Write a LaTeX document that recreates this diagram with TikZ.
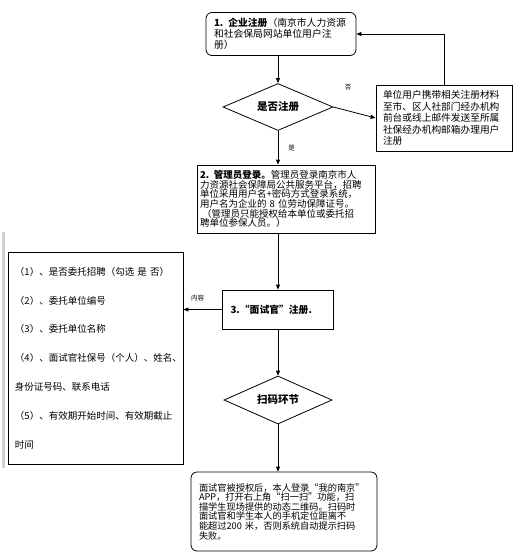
\documentclass[tikz,border=0pt]{standalone}
\usepackage{fontspec}
\setmainfont{Noto Sans CJK SC}
\usetikzlibrary{shapes.geometric,arrows.meta}
\tikzset{
  box/.style={draw=black, line width=0.8pt, align=left, anchor=center},
  rbox/.style={box, rounded corners=6pt},
  dia/.style={draw=black, line width=0.8pt, diamond, shape aspect=2.3, inner sep=0pt, font=\bfseries\fontsize{10.5}{12}\selectfont},
  conn/.style={line width=0.8pt, -{Triangle[length=5pt,width=4pt]}},
  lbl/.style={font=\fontsize{6.5}{7}\selectfont, inner sep=0pt}
}
\begin{document}
\begin{tikzpicture}[x=1pt,y=-1pt]
\useasboundingbox (0,0) rectangle (518,560);
\fill[black!18] (1.5,232) rectangle (4.5,468);
% box 1
\node[rbox, minimum width=150pt, minimum height=43pt, text width=134pt, inner xsep=8pt,
  font=\fontsize{9.8}{11}\selectfont] (b1) at (281,34)
  {\textbf{1. 企业注册}（南京市人力资源\\和社会保局网站单位用户注\\册）};
% diamond 1
\node[dia, minimum width=110pt, minimum height=47pt] (d1) at (278,107) {是否注册};
% right box
\node[box, minimum width=136pt, minimum height=66pt, text width=122pt, inner xsep=7pt,
  font=\fontsize{9.7}{11.5}\selectfont] (rb) at (444,118)
  {单位用户携带相关注册材料\\至市、区人社部门经办机构\\前台或线上邮件发送至所属\\社保经办机构邮箱办理用户\\注册};
% box 2
\node[box, minimum width=178pt, minimum height=68pt, text width=172pt, inner xsep=3pt,
  font=\fontsize{9.5}{9.6}\selectfont] (b2) at (286,199)
  {\textbf{2. 管理员登录。}管理员登录南京市人\\力资源社会保障局公共服务平台，招聘\\单位采用用户名+密码方式登录系统，\\用户名为企业的 8 位劳动保障证号。\\\hspace*{2pt}（管理员只能授权给本单位或委托招\\聘单位参保人员。）};
% box 3
\node[box, minimum width=111pt, minimum height=39pt, text width=95pt, inner xsep=8pt,
  font=\bfseries\fontsize{9.8}{11}\selectfont] (b3) at (278,309.5)
  {3.“面试官”注册.};
% left box
\node[box, minimum width=175pt, minimum height=212pt, text width=161pt, inner xsep=7pt,
  font=\fontsize{9.5}{28.8}\selectfont] (lb) at (95.5,358)
  {（1）、是否委托招聘（勾选 是 否）\\（2）、委托单位编号\\（3）、委托单位名称\\（4）、面试官社保号（个人）、姓名、\\身份证号码、联系电话\\（5）、有效期开始时间、有效期截止\\时间};
% diamond 2
\node[dia, minimum width=108pt, minimum height=48pt] (d2) at (278,400) {扫码环节};
% box 4
\node[rbox, minimum width=186pt, minimum height=79pt, text width=170pt, inner xsep=8pt,
  font=\fontsize{9.2}{9.6}\selectfont] (b4) at (284,511.5)
  {面试官被授权后，本人登录“我的南京”\\APP，打开右上角“扫一扫”功能，扫\\描学生现场提供的动态二维码。扫码时\\面试官和学生本人的手机定位距离不\\能超过200 米，否则系统自动提示扫码\\失败。};
% connectors
\draw[conn] (d1.north |- b1.south) -- (d1.north);
\draw[conn] (d1.east) -- (rb.west) node[lbl, pos=0.35, above=20pt] (no) {否};
\draw[conn] (rb.north) |- (b1.east);
\draw[conn] (d1.south) -- (d1.south |- b2.north) node[lbl, pos=0.5, right=10pt] (yes) {是};
\draw[conn] (b3.north |- b2.south) -- (b3.north);
\draw[conn] (b3.west) -- (b3.west -| lb.east) node[lbl, pos=0.63, above=8pt] (nr) {内容};
\draw[conn] (b3.south) -- (d2.north);
\draw[conn] (d2.south) -- (d2.south |- b4.north);
\end{tikzpicture}
\end{document}
